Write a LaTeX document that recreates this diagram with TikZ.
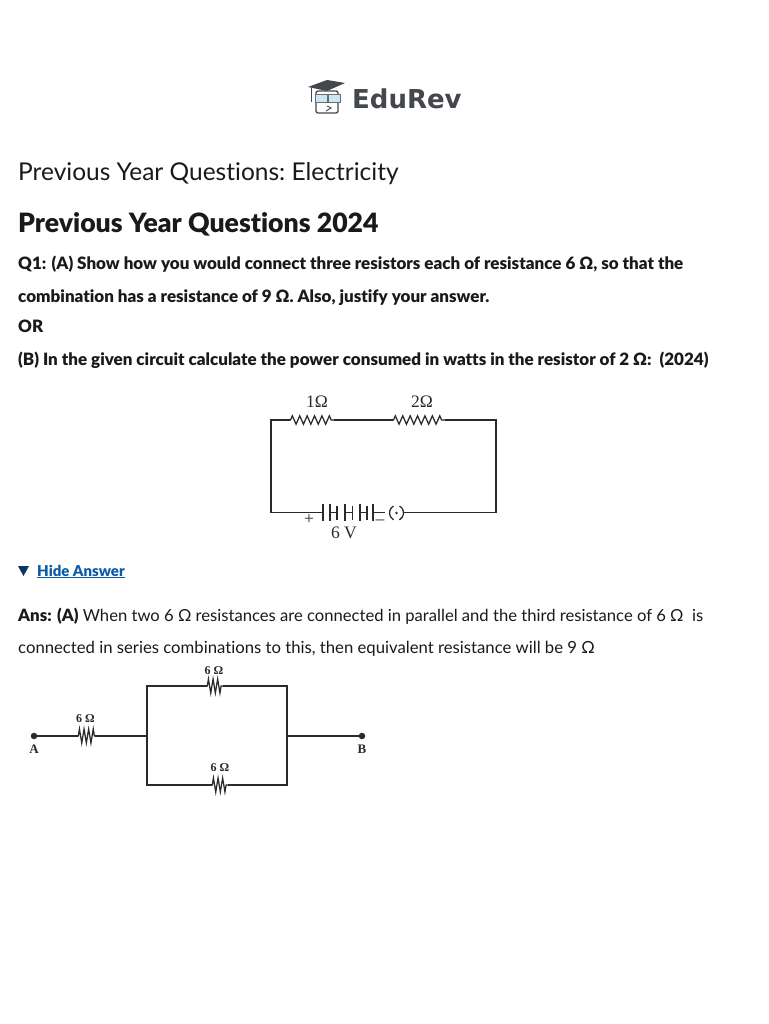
\documentclass[tikz,border=0pt]{standalone}
\usepackage{fontspec}
\setmainfont{Lato}[Ligatures=NoCommon,BoldFont={Lato Black}]
\newfontfamily\cktfont{Liberation Serif}
\newfontfamily\logofont{DejaVu Sans}
\usetikzlibrary{decorations.pathmorphing,shapes.geometric}
\definecolor{ink}{HTML}{1A1A1A}
\definecolor{wire}{HTML}{2A2A2A}
\definecolor{linkblue}{HTML}{0B5AA6}
\definecolor{logoink}{HTML}{44474B}
\definecolor{lens}{HTML}{CFE6F5}
\tikzset{
 txt/.style={anchor=base west,inner sep=0pt,text=ink,font=\fontsize{16.7}{16}\selectfont},
 bld/.style={txt,font=\fontsize{17}{16}\selectfont\bfseries},
 ckt/.style={inner sep=0pt,text=wire,font=\cktfont\fontsize{17.5}{17}\selectfont},
 cks/.style={inner sep=0pt,text=wire,font=\cktfont\bfseries\fontsize{12}{12}\selectfont},
 wirea/.style={draw=wire,line width=1.25pt,line join=miter},
 wireb/.style={draw=wire,line width=1.5pt,line join=miter},
 zig/.style={decorate,decoration={zigzag,amplitude=#1,segment length=7.4pt,pre length=0.5pt,post length=0.5pt}},
 zigt/.style={decorate,decoration={zigzag,amplitude=#1,segment length=4.6pt,pre length=0.3pt,post length=0.3pt}},
 dot/.style={circle,fill=wire,inner sep=0pt,minimum size=6.5pt},
}
\begin{document}
\begin{tikzpicture}[x=1pt,y=-1pt]
\useasboundingbox (0,0) rectangle (768,1024);
\fill[white] (0,0) rectangle (768,1024);
% logo
\node[anchor=base west,inner sep=0pt,text=logoink,font=\logofont\bfseries\fontsize{26}{26}\selectfont] (logo) at (352,108.5) {EduRev};
\fill[logoink] (308,87) -- (327,80) -- (345,83) -- (327,91) -- cycle;
\draw[logoink,line width=1pt] (311,88) -- (311,102);
\draw[logoink,line width=1.3pt,rounded corners=2pt,fill=white] (316,91) -- (338,91) -- (338,113) -- (316,113) -- cycle;
\draw[logoink!80,line width=1pt,fill=lens] (315,95) rectangle (327,103);
\draw[logoink!80,line width=1pt,fill=lens] (328,95) rectangle (340,103);
\draw[logoink,line width=.9pt] (327,106) -- (331,108) -- (326,111);
% headings
\node[txt,font=\fontsize{24.5}{24}\selectfont] (title) at (18,180.5) {Previous Year Questions:\hspace{-2pt} Electricity};
\node[bld,font=\fontsize{26.6}{24}\selectfont\bfseries] (head) at (18,233) {Previous Year Questions 2024};
\node[bld] (q1) at (18,269) {Q1: (A) Show how you would connect three resistors each of resistance 6 Ω, so that the};
\node[bld] (q2) at (18,302) {combination has a resistance of 9 Ω. Also, justify your answer.};
\node[bld] (q3) at (18,332) {OR};
\node[bld] (q4) at (18,365) {(B) In the given circuit calculate the power consumed in watts in the resistor of 2 Ω:\ \ (2024)};
% circuit 1
\coordinate (tl) at (271,420); \coordinate (tr) at (496,420);
\coordinate (bl) at (271,512.5); \coordinate (br) at (496,512.5);
\coordinate (r1a) at (290,420); \coordinate (r1b) at (334,420);
\coordinate (r2a) at (393,420); \coordinate (r2b) at (445,420);
\coordinate (b0) at (323,512.5); \coordinate (b1) at (404,512.5);
\draw[wirea] (r1b) -- (r2a);
\draw[wirea] (r2b) -- (tr) -- (br) -- (b1);
\draw[wirea] (b0) -- (bl) -- (tl) -- (r1a);
\draw[wirea,zig=4.2pt] (r1a) -- (r1b);
\draw[wirea,zig=4.2pt] (r2a) -- (r2b);
\foreach \x in {323,330,345,360,373}{\draw[wirea] (\x,504) -- (\x,521);}
\foreach \x/\y in {330/337,345/352.5,360/367,373/385}{\draw[wirea] (\x,512.5) -- (\y,512.5);}
\foreach \x in {337,352.5,367}{\draw[wirea] (\x,505.5) -- (\x,519.5);}
\draw[wirea] (393.5,506) arc[start angle=240,end angle=120,radius=8];
\draw[wirea] (399.5,506) arc[start angle=-60,end angle=60,radius=8];
\fill[wire] (396.5,513) circle (1.3pt);
\node[ckt] (l1) at (317,402) {1Ω};
\node[ckt] (l2) at (422,402) {2Ω};
\node[ckt] (plus) at (309,520) {+};
\node[ckt] (minus) at (380,522) {–};
\node[ckt] (v6) at (344,533) {6 V};
% answer
\fill[linkblue!60!black] (18,566) -- (29,566) -- (23.5,576) -- cycle;
\node[txt,text=linkblue,font=\fontsize{15}{15}\selectfont\bfseries] (hide) at (37,576) {\underline{Hide Answer}};
\node[txt] (a1) at (18,621.5) {\textbf{\fontsize{16.9}{16}\selectfont Ans: (A)} \fontsize{16.62}{16}\selectfont When two 6 Ω resistances are connected in parallel and the third resistance of 6 Ω\ \ is};
\node[txt] (a2) at (18,653) {connected in series combinations to this, then equivalent resistance will be 9 Ω};
% circuit 2
\node[dot] (A) at (34,736) {};
\node[dot] (B) at (362,736) {};
\coordinate (sa) at (78,736); \coordinate (sb) at (95,736);
\coordinate (pl) at (147,736); \coordinate (pr) at (287,736);
\coordinate (ptl) at (147,686); \coordinate (ptr) at (287,686);
\coordinate (pbl) at (147,785); \coordinate (pbr) at (287,785);
\coordinate (ta) at (207,686); \coordinate (tb) at (223,686);
\coordinate (ua) at (212,785); \coordinate (ub) at (228,785);
\draw[wireb] (A) -- (sa); \draw[wireb] (sb) -- (pl);
\draw[wireb] (pr) -- (B);
\draw[wireb] (ta) -- (ptl) -- (pbl) -- (ua);
\draw[wireb] (tb) -- (ptr) -- (pbr) -- (ub);
\draw[wirea,zigt=7pt] (sa) -- (sb);
\draw[wirea,zigt=7pt] (ta) -- (tb);
\draw[wirea,zigt=7pt] (ua) -- (ub);
\node[cks] (s6) at (85.5,718.5) {6 Ω};
\node[cks] (t6) at (214,671) {6 Ω};
\node[cks] (u6) at (220,768) {6 Ω};
\node[cks,font=\cktfont\bfseries\fontsize{13}{13}\selectfont] (la) at (34,749) {A};
\node[cks,font=\cktfont\bfseries\fontsize{13}{13}\selectfont] (lb) at (362,749) {B};
\end{tikzpicture}
\end{document}
